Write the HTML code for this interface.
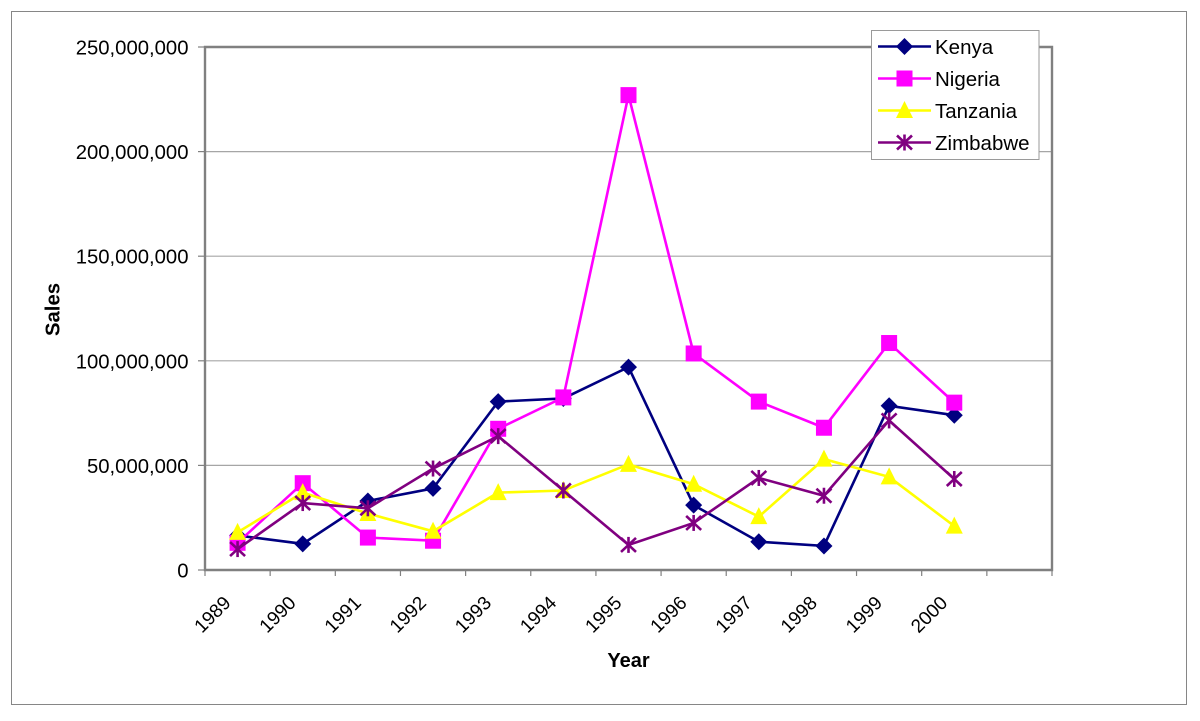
<!DOCTYPE html>
<html>
<head>
<meta charset="utf-8">
<title>Sales by Year</title>
<style>
html,body{margin:0;padding:0;background:#fff;}
svg{display:block;}
text{font-family:"Liberation Sans",sans-serif;fill:#000;}
</style>
</head>
<body>
<svg id="chart" width="1200" height="721" viewBox="0 0 1200 721" xmlns="http://www.w3.org/2000/svg"></svg>
<script>
const categories = ['1989','1990','1991','1992','1993','1994','1995','1996','1997','1998','1999','2000',''];
const seriesNames = ['Kenya','Nigeria','Tanzania','Zimbabwe'];
const kenya = [16.5,12.5,33,39,80.5,82,97,31,13.5,11.5,78.5,74];
const nigeria = [13,41.5,15.5,14,67.5,82.5,227,103.5,80.5,68,108.5,80];
const tanzania = [18,37,27,18.5,37,38,50.5,41,25.5,53,44.5,21];
const zimbabwe = [10,32,29.5,48.5,64,38,12,22.5,44,35.5,71.5,43.5];
const yTicks = [0,50,100,150,200,250];
const yTickLabels = ['0','50,000,000','100,000,000','150,000,000','200,000,000','250,000,000'];

const svg = document.getElementById('chart');
const L = 205, R = 1052, T = 47, B = 570;
const yMax = 250;
const band = (R - L) / categories.length;
function xPos(i){ return L + band * (i + 0.5); }
function xEdge(i){ return L + band * i; }
function yPos(v){ return B - (v / yMax) * (B - T); }
function make(tag, attrs, parent){
  const el = document.createElementNS('http://www.w3.org/2000/svg', tag);
  for (const k in attrs) el.setAttribute(k, attrs[k]);
  (parent || svg).appendChild(el);
  return el;
}
function marker(kind, x, y, color, g){
  if (kind === 'diamond') {
    make('polygon', {points:[x,y-8.5,x+8.5,y,x,y+8.5,x-8.5,y].join(' '), fill:color}, g);
  } else if (kind === 'square') {
    make('rect', {x:x-8, y:y-8, width:16, height:16, fill:color}, g);
  } else if (kind === 'triangle') {
    make('polygon', {points:[x,y-9.5,x+8.5,y+7.5,x-8.5,y+7.5].join(' '), fill:color}, g);
  } else {
    const a = {stroke:color, 'stroke-width':2.6};
    make('line', Object.assign({x1:x-7.5, y1:y-7, x2:x+7.5, y2:y+7}, a), g);
    make('line', Object.assign({x1:x-7.5, y1:y+7, x2:x+7.5, y2:y-7}, a), g);
    make('line', Object.assign({x1:x, y1:y-8, x2:x, y2:y+8}, a), g);
  }
}

const frame = make('rect', {x:11.5, y:11.5, width:1175, height:693, fill:'#fff', stroke:'#868686', 'stroke-width':1});



yTicks.forEach(function(v, i){
  const y = yPos(v);
  if (v > 0) {
    const grid = make('line', {x1:L, y1:y, x2:R, y2:y, stroke:'#a6a6a6', 'stroke-width':1.2});
    
    
  }
  const tick = make('line', {x1:L-7, y1:y, x2:L, y2:y, stroke:'#808080', 'stroke-width':1.2});
  
  
  const label = make('text', {x:L-16.5, y:y+7.5, 'text-anchor':'end', 'font-size':20.3});
  label.textContent = yTickLabels[i];
  
  
});

for (let i = 0; i <= categories.length; i++) {
  const tick = make('line', {x1:xEdge(i), y1:B, x2:xEdge(i), y2:B+6, stroke:'#808080', 'stroke-width':1.2});
  
  
}
categories.forEach(function(c, i){
  if (!c) return;
  const ax = xPos(i) - 5.7, ay = B + 34;
  const label = make('text', {x:ax, y:ay, 'text-anchor':'end', 'font-size':19, transform:'rotate(-45 ' + ax + ' ' + ay + ')'});
  label.textContent = c;
  
  
});

const plotBorder = make('path', {d:'M' + L + ' ' + T + 'H' + R + 'V' + B + 'H' + L + 'Z', fill:'none', stroke:'#808080', 'stroke-width':2.4});



const seriesValues = [kenya, nigeria, tanzania, zimbabwe];
const seriesColors = ['#000080','#ff00ff','#ffff00','#800080'];
const seriesMarkers = ['diamond','square','triangle','star'];
seriesValues.forEach(function(vals, s){
  const g = make('g', {});
  
  
  const pts = vals.map(function(v, i){ return xPos(i) + ',' + yPos(v); }).join(' ');
  make('polyline', {points:pts, fill:'none', stroke:seriesColors[s], 'stroke-width':2.6, 'stroke-linejoin':'miter'}, g);
  vals.forEach(function(v, i){ marker(seriesMarkers[s], xPos(i), yPos(v), seriesColors[s], g); });
});

const legend = make('g', {});


make('rect', {x:871.5, y:30.5, width:167.5, height:129, fill:'#fff', stroke:'#9a9a9a', 'stroke-width':1}, legend);
seriesNames.forEach(function(name, s){
  const y = 46.5 + s * 32;
  const entry = make('g', {}, legend);
  
  
  make('line', {x1:878, y1:y, x2:931, y2:y, stroke:seriesColors[s], 'stroke-width':2.4}, entry);
  marker(seriesMarkers[s], 904.5, y, seriesColors[s], entry);
  const t = make('text', {x:935, y:y+7.5, 'font-size':20.5}, entry);
  t.textContent = name;
});

const yTitle = make('text', {x:0, y:0, 'font-size':20.3, 'font-weight':'bold', 'text-anchor':'middle', transform:'translate(59.5 309.5) rotate(-90)'});
yTitle.textContent = 'Sales';



const xTitle = make('text', {x:628.5, y:667, 'font-size':20, 'font-weight':'bold', 'text-anchor':'middle'});
xTitle.textContent = 'Year';


</script>
</body>
</html>
